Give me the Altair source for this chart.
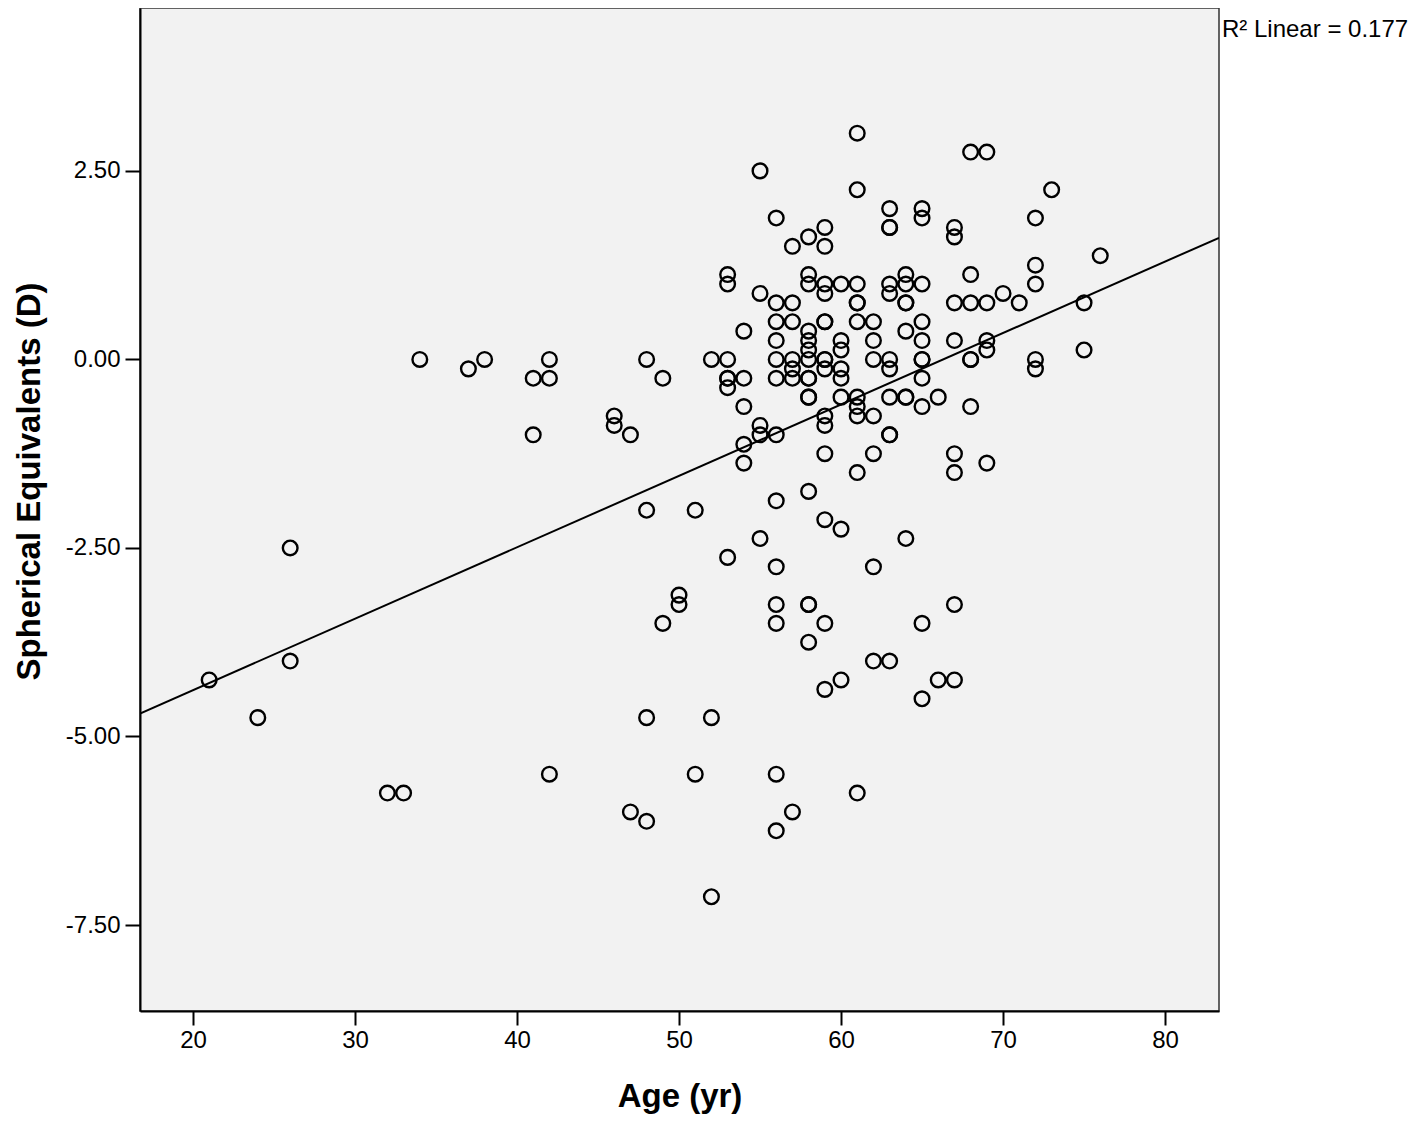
import altair as alt
import pandas as pd

# ---- data ----
ages = (
    [21, 24, 26, 26, 32, 33, 34, 37, 38, 41, 41, 42, 42, 42, 46, 46, 47, 47]
    + [48] * 4 + [49] * 2 + [50] * 2 + [51] * 2 + [52] * 3
    + [53] * 7 + [54] * 5 + [55] * 5 + [56] * 13 + [57] * 7
    + [58] * 15 + [59] * 15 + [60] * 8 + [61] * 11 + [62] * 7
    + [63] * 11 + [64] * 8 + [65] * 11 + [66] * 2 + [67] * 8
    + [68] * 6 + [69] * 5 + [70] + [71] + [72] * 5 + [73] + [75] * 2 + [76]
)
se = (
    [-4.25, -4.75, -2.5, -4.0, -5.75, -5.75, 0.0, -0.125, 0.0, -0.25, -1.0,
     0.0, -0.25, -5.5, -0.75, -0.875, -1.0, -6.0]
    + [0.0, -2.0, -4.75, -6.125]                      # 48
    + [-0.25, -3.5]                                   # 49
    + [-3.125, -3.25]                                 # 50
    + [-2.0, -5.5]                                    # 51
    + [0.0, -4.75, -7.125]                            # 52
    + [1.125, 1.0, 0.0, -0.25, -0.25, -0.375, -2.625]  # 53
    + [0.375, -0.25, -0.625, -1.125, -1.375]          # 54
    + [2.5, 0.875, -0.875, -1.0, -2.375]              # 55
    + [1.875, 0.75, 0.5, 0.25, 0.0, -0.25, -1.0, -1.875, -2.75, -3.25,
       -3.5, -5.5, -6.25]                             # 56
    + [1.5, 0.75, 0.5, 0.0, -0.125, -0.25, -6.0]      # 57
    + [1.625, 1.125, 1.0, 0.375, 0.25, 0.125, 0.0, -0.25, -0.25, -0.5,
       -0.5, -1.75, -3.25, -3.25, -3.75]              # 58
    + [1.75, 1.5, 1.0, 0.875, 0.5, 0.5, 0.0, 0.0, -0.125, -0.75, -0.875,
       -1.25, -2.125, -3.5, -4.375]                   # 59
    + [1.0, 0.25, 0.125, -0.125, -0.25, -0.5, -2.25, -4.25]  # 60
    + [3.0, 2.25, 1.0, 0.75, 0.75, 0.5, -0.5, -0.625, -0.75, -1.5,
       -5.75]                                         # 61
    + [0.5, 0.25, 0.0, -0.75, -1.25, -2.75, -4.0]     # 62
    + [2.0, 1.75, 1.75, 1.0, 0.875, 0.0, -0.125, -0.5, -1.0, -1.0,
       -4.0]                                          # 63
    + [1.125, 1.0, 0.75, 0.75, 0.375, -0.5, -0.5, -2.375]  # 64
    + [2.0, 1.875, 1.0, 0.5, 0.25, 0.0, 0.0, -0.25, -0.625, -3.5,
       -4.5]                                          # 65
    + [-0.5, -4.25]                                   # 66
    + [1.75, 1.625, 0.75, 0.25, -1.25, -1.5, -3.25, -4.25]  # 67
    + [2.75, 1.125, 0.75, 0.0, 0.0, -0.625]           # 68
    + [2.75, 0.75, 0.25, 0.125, -1.375]               # 69
    + [0.875]                                         # 70
    + [0.75]                                          # 71
    + [1.875, 1.25, 1.0, 0.0, -0.125]                 # 72
    + [2.25]                                          # 73
    + [0.75, 0.125]                                   # 75
    + [1.375]                                         # 76
)
x_ticks = [20, 30, 40, 50, 60, 70, 80]
y_ticks = [-7.5, -5.0, -2.5, 0.0, 2.5]
x_domain = [16.73, 83.33]
y_domain = [-8.64, 4.66]
r2_label = ["R\u00b2 Linear = 0.177"]

assert len(ages) == len(se)
df = pd.DataFrame({"age": ages, "se": se})

FONT = "Liberation Sans"

x_enc = alt.X(
    "age:Q",
    scale=alt.Scale(domain=x_domain, nice=False, zero=False),
    axis=alt.Axis(
        values=x_ticks, title="Age (yr)", format="d",
        titleY=95, titleBaseline="alphabetic",
        labelPadding=3, tickSize=14, labelFlush=False,
    ),
)
y_enc = alt.Y(
    "se:Q",
    scale=alt.Scale(domain=y_domain, nice=False, zero=False),
    axis=alt.Axis(
        values=y_ticks, title="Spherical Equivalents (D)",
        labelExpr="replace(format(datum.value, '.2f'), '\u2212', '-')",
        titleX=-101, titleY=473, titleAngle=270, titleAlign="center",
        titleBaseline="alphabetic",
        labelPadding=5, tickSize=15, labelFlush=False,
    ),
)

points = alt.Chart(df).mark_point(
    shape="circle", filled=False, size=215, strokeWidth=2.4,
    color="black", opacity=1,
).encode(x=x_enc, y=y_enc)

line = alt.Chart(df).transform_regression(
    "age", "se", extent=x_domain
).mark_line(color="black", strokeWidth=2, clip=True).encode(
    x="age:Q", y="se:Q"
)

label = alt.Chart(pd.DataFrame({"label": r2_label})).mark_text(
    align="left", baseline="alphabetic", font=FONT, fontSize=24,
    color="black",
).encode(x=alt.value(1082), y=alt.value(29), text="label:N")

chart = alt.layer(points, line, label).properties(
    width=1079, height=1003,
    autosize=alt.AutoSizeParams(type="none"),
    padding={"left": 132, "top": 0, "right": 195, "bottom": 103},
    background="white",
).configure_view(
    fill="#f2f2f2", stroke="#333333", strokeWidth=1.5,
).configure_axis(
    grid=False, domainColor="black", domainWidth=2,
    tickColor="black", tickWidth=2,
    labelFont=FONT, labelFontSize=24, labelColor="black",
    titleFont=FONT, titleFontSize=33, titleFontWeight="bold",
    titleColor="black",
)

chart.save("out.html", embed_options={"renderer": "svg", "actions": False})
